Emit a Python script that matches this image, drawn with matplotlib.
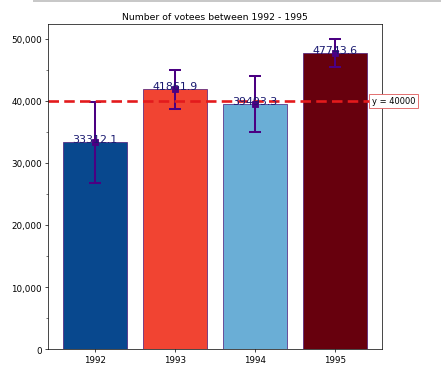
import matplotlib
matplotlib.use("Agg")
import matplotlib.pyplot as plt
from matplotlib.ticker import FuncFormatter, MultipleLocator
from matplotlib.patches import Rectangle

years = ["1992", "1993", "1994", "1995"]
means = [33312.1, 41861.9, 39493.3, 47743.6]
errors = [6600, 3200, 4500, 2250]
colors = ["#08488e", "#f14432", "#6aaed6", "#67000d"]
threshold = 40000

fig = plt.figure(figsize=(7, 5.936), dpi=63)
ax = fig.add_axes([0.109, 0.064, 0.757, 0.869])

x = range(len(years))
ax.bar(x, means, width=0.8, color=colors, edgecolor="#4b1a7a", linewidth=0.8)
ax.errorbar(x, means, yerr=errors, fmt="s", color="#4b0082", ecolor="#4b0082",
            markersize=7, elinewidth=2.3, capsize=7, capthick=2.3)
for xi, m in zip(x, means):
    ax.text(xi, m - 300, f"{m}", ha="center", va="bottom", color="#191970", fontsize=12.5)

ax.axhline(threshold, color="#e31a1c", linestyle=(0, (4, 2)), linewidth=3)
ax.text(3.46, threshold, f"y = {threshold}", ha="left", va="center", fontsize=9.5,
        bbox=dict(facecolor="white", edgecolor="#e06060", boxstyle="square,pad=0.3"),
        clip_on=False)

ax.set_xticks(list(x))
ax.set_xticklabels(years)
ax.set_ylim(0, 52400)
ax.yaxis.set_major_locator(MultipleLocator(10000))
ax.yaxis.set_minor_locator(MultipleLocator(5000))
ax.yaxis.set_major_formatter(FuncFormatter(lambda v, p: f"{int(v):,}"))
ax.set_title("Number of votees between 1992 - 1995", fontsize=10.5)

fig.patches.append(Rectangle((33 / 441, 1 - 3 / 374), 1, 3 / 374, transform=fig.transFigure,
                             facecolor="#c8c8c8", edgecolor="none"))

fig.savefig("out.png", dpi=63)
